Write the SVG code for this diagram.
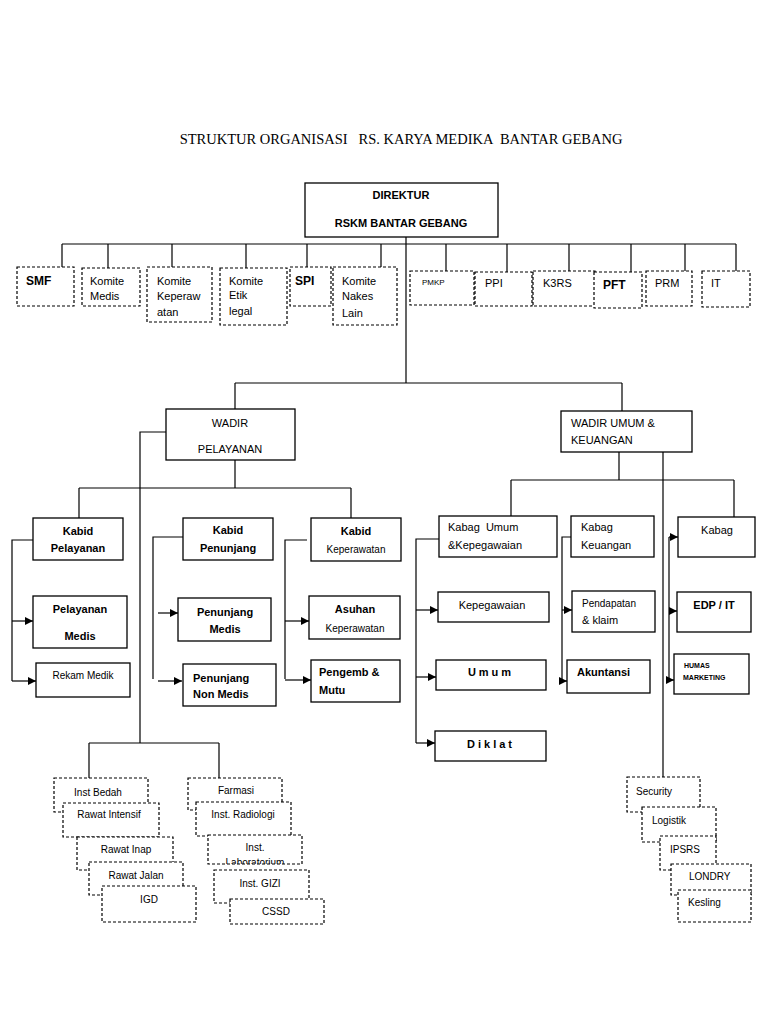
<svg xmlns="http://www.w3.org/2000/svg" width="768" height="1024" viewBox="0 0 768 1024">
<style>
.b{fill:#fff;stroke:#000;stroke-width:1.3}
.d{fill:#fff;stroke:#000;stroke-width:1.2;stroke-dasharray:3,2}
.l{fill:none;stroke:#000;stroke-width:1.2}
text{font-family:"Liberation Sans",Arial,sans-serif;font-size:11px;fill:#000}
.bo{font-weight:bold}
.m{text-anchor:middle}
.t{font-family:"Liberation Serif","Times New Roman",serif;font-size:14.5px}
</style>
<defs>
<marker id="a" viewBox="0 0 10 10" refX="10" refY="5" markerWidth="7" markerHeight="7" orient="auto"><path d="M0,0L10,5L0,10z"/></marker>
<clipPath id="lab"><rect x="208" y="835" width="95" height="29"/></clipPath>
</defs>
<rect width="768" height="1024" fill="#fff"/>
<text class="t m" x="401" y="144" xml:space="preserve">STRUKTUR ORGANISASI   RS. KARYA MEDIKA  BANTAR GEBANG</text>

<g id="connectors">
<path class="l" d="M62,244H736M406,237V383M62,244V267M108,244V268M172,244V267M246,244V268M307,244V267M381,244V267M446,244V271M507,244V272M569,244V271M631,244V272M685,244V271M736,244V271"/>
<path class="l" d="M235,383H622M235,383V409M622,383V411"/>
<path class="l" d="M166,432H140V743M89,743H219M89,743V778M219,743V778"/>
<path class="l" d="M235,460V488M79,488H351M79,488V518M351,488V518"/>
<path class="l" d="M35,540H12V681"/>
<path class="l" marker-end="url(#a)" d="M12,621H33"/>
<path class="l" marker-end="url(#a)" d="M12,681H36"/>
<path class="l" d="M183,537H153V679"/>
<path class="l" marker-end="url(#a)" d="M158,613H178"/>
<path class="l" marker-end="url(#a)" d="M158,681H182"/>
<path class="l" d="M307,540H285V679"/>
<path class="l" marker-end="url(#a)" d="M285,621H309"/>
<path class="l" marker-end="url(#a)" d="M285,680H311"/>
<path class="l" d="M619,452V480M511,480H734M511,480V516M734,480V517M663,452V777"/>
<path class="l" d="M439,539H416V743"/>
<path class="l" marker-end="url(#a)" d="M416,610H438"/>
<path class="l" marker-end="url(#a)" d="M416,677H436"/>
<path class="l" marker-end="url(#a)" d="M416,743H435"/>
<path class="l" d="M572,537H562V681"/>
<path class="l" marker-end="url(#a)" d="M562,610H572"/>
<path class="l" marker-end="url(#a)" d="M562,681H567"/>
<path class="l" d="M669,537V680"/>
<path class="l" marker-end="url(#a)" d="M669,537H678"/>
<path class="l" marker-end="url(#a)" d="M669,611H677"/>
<path class="l" marker-end="url(#a)" d="M669,680H674"/>
</g>

<g id="direktur"><rect class="b" x="305" y="183" width="193" height="54"/><text class="bo m" x="401" y="199">DIREKTUR</text><text class="bo m" x="401" y="227">RSKM BANTAR GEBANG</text></g>

<g id="smf"><rect class="d" x="17" y="267" width="57" height="39"/><text class="bo" x="26" y="285" style="font-size:12px">SMF</text></g>
<g id="komite-medis"><rect class="d" x="82" y="268" width="58" height="38"/><text x="90" y="285">Komite</text><text x="90" y="300">Medis</text></g>
<g id="komite-kep"><rect class="d" x="147" y="267" width="65" height="55"/><text x="157" y="285">Komite</text><text x="157" y="300">Keperaw</text><text x="157" y="316">atan</text></g>
<g id="komite-etik"><rect class="d" x="220" y="268" width="67" height="57"/><text x="229" y="285">Komite</text><text x="229" y="299">Etik</text><text x="229" y="315">legal</text></g>
<g id="spi"><rect class="d" x="290" y="267" width="41" height="39"/><text class="bo" x="295" y="285" style="font-size:12px">SPI</text></g>
<g id="komite-nakes"><rect class="d" x="333" y="267" width="64" height="58"/><text x="342" y="285">Komite</text><text x="342" y="300">Nakes</text><text x="342" y="317">Lain</text></g>
<g id="pmkp"><rect class="d" x="410" y="271" width="64" height="34"/><text x="422" y="285" style="font-size:8px">PMKP</text></g>
<g id="ppi"><rect class="d" x="475" y="272" width="57" height="34"/><text x="485" y="287">PPI</text></g>
<g id="k3rs"><rect class="d" x="533" y="271" width="62" height="35"/><text x="543" y="287">K3RS</text></g>
<g id="pft"><rect class="d" x="594" y="272" width="48" height="36"/><text class="bo" x="603" y="289" style="font-size:12px">PFT</text></g>
<g id="prm"><rect class="d" x="646" y="271" width="46" height="35"/><text x="655" y="287">PRM</text></g>
<g id="it"><rect class="d" x="702" y="271" width="48" height="36"/><text x="711" y="287">IT</text></g>

<g id="wadir-pel"><rect class="b" x="166" y="409" width="129" height="51"/><text class="m" x="230" y="427">WADIR</text><text class="m" x="230" y="453">PELAYANAN</text></g>
<g id="wadir-umum"><rect class="b" x="561" y="411" width="131" height="41"/><text x="571" y="427">WADIR UMUM &amp;</text><text x="571" y="444">KEUANGAN</text></g>

<g id="kabid-pel"><rect class="b" x="33" y="518" width="90" height="42"/><text class="bo m" x="78" y="535">Kabid</text><text class="bo m" x="78" y="552">Pelayanan</text></g>
<g id="kabid-pen"><rect class="b" x="183" y="518" width="90" height="42"/><text class="bo m" x="228" y="534">Kabid</text><text class="bo m" x="228" y="552">Penunjang</text></g>
<g id="kabid-kep"><rect class="b" x="311" y="518" width="90" height="43"/><text class="bo m" x="356" y="535">Kabid</text><text class="m" x="356" y="553" style="font-size:10px">Keperawatan</text></g>
<g id="pel-medis"><rect class="b" x="33" y="596" width="94" height="52"/><text class="bo m" x="80" y="613">Pelayanan</text><text class="bo m" x="80" y="640">Medis</text></g>
<g id="rekam"><rect class="b" x="36" y="663" width="94" height="34"/><text class="m" x="83" y="679" style="font-size:10px">Rekam Medik</text></g>
<g id="pen-medis"><rect class="b" x="178" y="598" width="93" height="43"/><text class="bo m" x="225" y="616">Penunjang</text><text class="bo m" x="225" y="633">Medis</text></g>
<g id="pen-non"><rect class="b" x="183" y="664" width="93" height="42"/><text class="bo" x="193" y="682">Penunjang</text><text class="bo" x="193" y="698">Non Medis</text></g>
<g id="asuhan"><rect class="b" x="309" y="596" width="91" height="43"/><text class="bo m" x="355" y="613">Asuhan</text><text class="m" x="355" y="632" style="font-size:10px">Keperawatan</text></g>
<g id="pengemb"><rect class="b" x="311" y="660" width="89" height="42"/><text class="bo" x="319" y="676">Pengemb &amp;</text><text class="bo" x="319" y="694">Mutu</text></g>

<g id="kabag-umum"><rect class="b" x="439" y="516" width="118" height="41"/><text x="448" y="531" xml:space="preserve">Kabag  Umum</text><text x="448" y="549">&amp;Kepegawaian</text></g>
<g id="kabag-keu"><rect class="b" x="571" y="516" width="83" height="41"/><text x="581" y="531">Kabag</text><text x="581" y="549">Keuangan</text></g>
<g id="kabag"><rect class="b" x="678" y="517" width="77" height="40"/><text class="m" x="717" y="534">Kabag</text></g>
<g id="kepeg"><rect class="b" x="438" y="592" width="111" height="30"/><text class="m" x="492" y="609">Kepegawaian</text></g>
<g id="umum"><rect class="b" x="436" y="660" width="110" height="30"/><text class="bo m" x="491" y="676" style="letter-spacing:3px">Umum</text></g>
<g id="diklat"><rect class="b" x="435" y="731" width="111" height="30"/><text class="bo m" x="491" y="748" style="letter-spacing:3px">Diklat</text></g>
<g id="pendapatan"><rect class="b" x="572" y="591" width="83" height="41"/><text x="582" y="607" style="font-size:10px">Pendapatan</text><text x="582" y="624">&amp; klaim</text></g>
<g id="akuntansi"><rect class="b" x="567" y="660" width="83" height="33"/><text class="bo" x="577" y="676">Akuntansi</text></g>
<g id="edp"><rect class="b" x="677" y="592" width="74" height="40"/><text class="bo m" x="714" y="609">EDP / IT</text></g>
<g id="humas"><rect class="b" x="674" y="654" width="75" height="40"/><text class="bo" x="684" y="668" style="font-size:7px">HUMAS</text><text class="bo" x="683" y="680" style="font-size:7px">MARKETING</text></g>

<g id="inst-bedah"><rect class="d" x="54" y="778" width="94" height="34"/><text class="m" x="98" y="796" style="font-size:10px">Inst Bedah</text></g>
<g id="rawat-intensif"><rect class="d" x="63" y="803" width="96" height="34"/><text class="m" x="109" y="818" style="font-size:10px">Rawat Intensif</text></g>
<g id="rawat-inap"><rect class="d" x="77" y="837" width="96" height="33"/><text class="m" x="126" y="853" style="font-size:10px">Rawat Inap</text></g>
<g id="rawat-jalan"><rect class="d" x="89" y="862" width="94" height="33"/><text class="m" x="136" y="879" style="font-size:10px">Rawat Jalan</text></g>
<g id="igd"><rect class="d" x="102" y="886" width="94" height="36"/><text class="m" x="149" y="903" style="font-size:10px">IGD</text></g>
<g id="farmasi"><rect class="d" x="188" y="778" width="94" height="32"/><text class="m" x="236" y="794" style="font-size:10px">Farmasi</text></g>
<g id="radiologi"><rect class="d" x="196" y="802" width="95" height="34"/><text class="m" x="243" y="818" style="font-size:10px">Inst. Radiologi</text></g>
<g id="lab"><rect class="d" x="208" y="835" width="94" height="29"/><g clip-path="url(#lab)"><text class="m" x="255" y="851" style="font-size:10px">Inst.</text><text class="m" x="255" y="866" style="font-size:10px">Laboratorium</text></g></g>
<g id="gizi"><rect class="d" x="214" y="870" width="95" height="33"/><text class="m" x="260" y="887" style="font-size:10px">Inst. GIZI</text></g>
<g id="cssd"><rect class="d" x="230" y="899" width="94" height="25"/><text class="m" x="276" y="915" style="font-size:10px">CSSD</text></g>

<g id="security"><rect class="d" x="627" y="777" width="73" height="35"/><text x="636" y="795" style="font-size:10px">Security</text></g>
<g id="logistik"><rect class="d" x="642" y="807" width="74" height="35"/><text x="652" y="824" style="font-size:10px">Logistik</text></g>
<g id="ipsrs"><rect class="d" x="660" y="836" width="56" height="34"/><text x="670" y="853" style="font-size:10px">IPSRS</text></g>
<g id="londry"><rect class="d" x="671" y="864" width="80" height="31"/><text x="689" y="880" style="font-size:10px">LONDRY</text></g>
<g id="kesling"><rect class="d" x="678" y="890" width="73" height="32"/><text x="688" y="906" style="font-size:10px">Kesling</text></g>
</svg>
